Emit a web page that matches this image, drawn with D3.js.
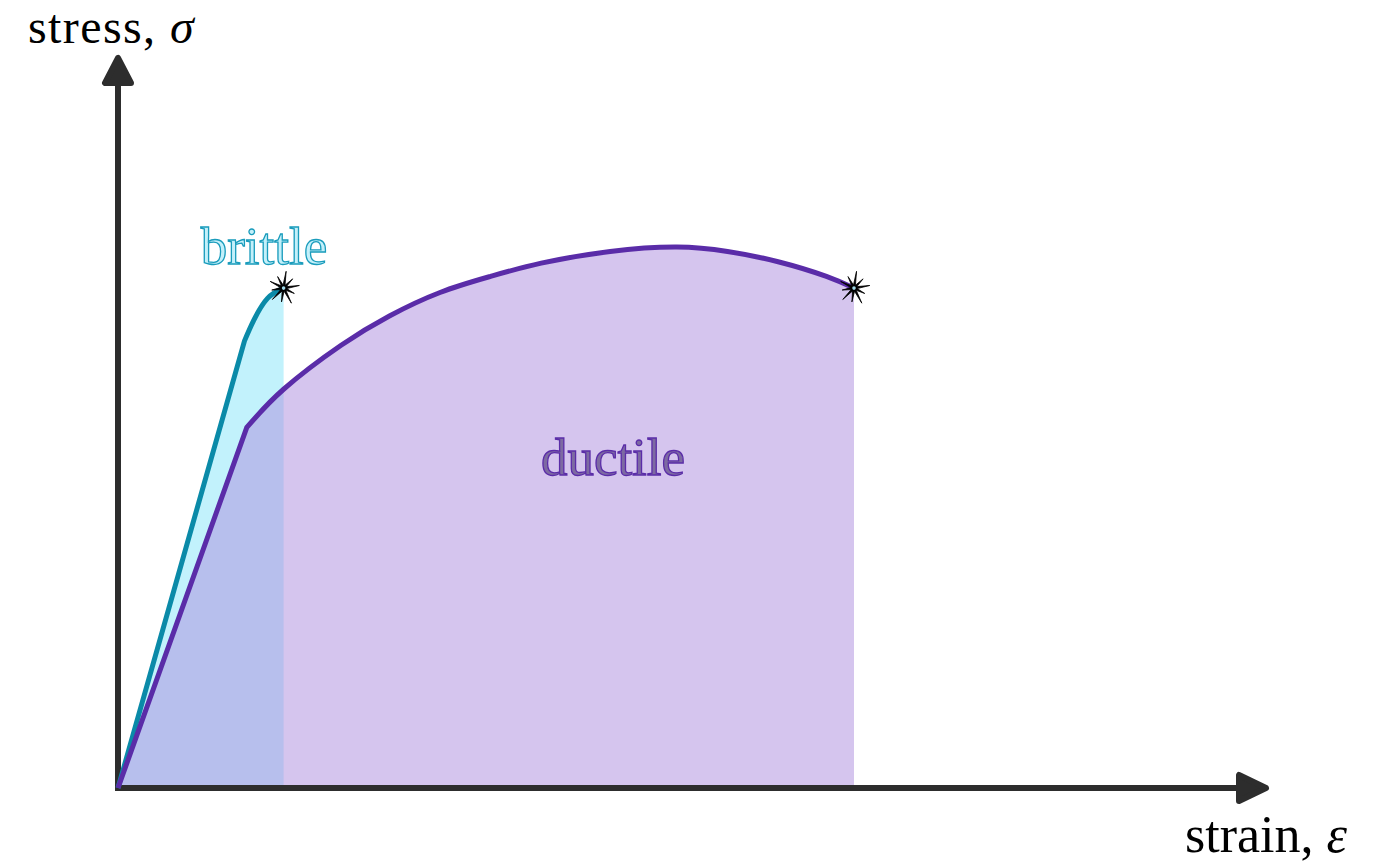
<!DOCTYPE html>
<html>
<head>
<meta charset="utf-8">
<script src="https://cdn.jsdelivr.net/npm/d3@7"></script>
<style>
  body { margin: 0; background: #fff; }
  svg { display: block; }
</style>
</head>
<body>
<div class="chart"></div>
<script>

var width = 1378;
var height = 862;

// brittle material: elastic part then short curve to fracture
var brittleStrain = [0, 5.5, 5.9, 6.5, 7.2];
var brittleStress = [0, 305, 319, 334, 341];

// ductile material: elastic part, yielding, hardening, necking to fracture
var ductileStrain = [0, 5.6, 7.2, 9.7, 11.8, 14.0, 16.2, 18.4, 21.4, 24.3, 26.5, 28.7, 30.8, 32.0];
var ductileStress = [0, 246, 272, 302, 322, 338, 349, 358, 366, 369, 366, 359, 349, 341];

var labels = ["brittle", "ductile"];

var x = d3.scaleLinear().domain([0, 50]).range([118, 1268]);
var y = d3.scaleLinear().domain([0, 500]).range([788, 55]);

var svg = d3.select(".chart")
    .append("svg")
    .attr("width", width)
    .attr("height", height);

function toPoints(xs, ys) {
    return xs.map((d, i) => [d, ys[i]]);
}

var brittle = toPoints(brittleStrain, brittleStress);
var ductile = toPoints(ductileStrain, ductileStress);

var straight = d3.line().x(d => x(d[0])).y(d => y(d[1]));
var smooth = d3.line().x(d => x(d[0])).y(d => y(d[1])).curve(d3.curveNatural);

// elastic segment is straight, the rest is a smooth curve (keeps the kink)
function curvePath(pts) {
    var elastic = straight(pts.slice(0, 2));
    var plastic = smooth(pts.slice(1)).replace(/^M/, "L");
    return elastic + plastic;
}

function areaPath(pts) {
    var last = pts[pts.length - 1];
    return curvePath(pts) + "L" + x(last[0]) + "," + y(0) + "L" + x(0) + "," + y(0) + "Z";
}

// fills
svg.append("path")
    .attr("d", areaPath(brittle))
    .attr("fill", "#c2f2fc");

svg.append("path")
    .attr("d", areaPath(ductile))
    .attr("fill", "#ab8bdd")
    .attr("fill-opacity", 0.5);

// axes
var axisColor = "#2d2d2d";
var axes = svg.append("g");

axes.append("line")
    .attr("x1", x(0) - 3).attr("x2", x.range()[1] - 30)
    .attr("y1", y(0)).attr("y2", y(0))
    .attr("stroke", axisColor).attr("stroke-width", 6);

axes.append("line")
    .attr("x1", x(0)).attr("x2", x(0))
    .attr("y1", y(0) + 3).attr("y2", y.range()[1] + 30)
    .attr("stroke", axisColor).attr("stroke-width", 6);

// arrow heads
var xe = x.range()[1], ye = y.range()[1];
axes.append("path")
    .attr("d", "M" + (xe - 2) + "," + y(0) + "L" + (xe - 29) + "," + (y(0) - 13) + "L" + (xe - 29) + "," + (y(0) + 13) + "Z")
    .attr("fill", axisColor).attr("stroke", axisColor)
    .attr("stroke-width", 6).attr("stroke-linejoin", "round");

axes.append("path")
    .attr("d", "M" + x(0) + "," + (ye + 3) + "L" + (x(0) - 13) + "," + (ye + 28) + "L" + (x(0) + 13) + "," + (ye + 28) + "Z")
    .attr("fill", axisColor).attr("stroke", axisColor)
    .attr("stroke-width", 6).attr("stroke-linejoin", "round");

// curves
svg.append("path")
    .attr("d", curvePath(brittle))
    .attr("fill", "none")
    .attr("stroke", "#0a8aa8")
    .attr("stroke-width", 5)
    .attr("stroke-linejoin", "round");

svg.append("path")
    .attr("d", curvePath(ductile))
    .attr("fill", "none")
    .attr("stroke", "#5a2ca8")
    .attr("stroke-width", 5)
    .attr("stroke-linejoin", "round");

// fracture stars
var spikeLen = [17, 13, 16, 12, 17, 14, 16, 12, 15, 13];
var spikes = d3.range(20).map(i => [i * Math.PI / 10, i % 2 ? 3.2 : spikeLen[i / 2]]);
var star = d3.lineRadial().angle(d => d[0] + 0.15).radius(d => d[1]).curve(d3.curveLinearClosed);

[brittle[brittle.length - 1], ductile[ductile.length - 1]].forEach(function (p) {
    svg.append("path")
        .attr("d", star(spikes))
        .attr("transform", "translate(" + x(p[0]) + "," + y(p[1]) + ")")
        .attr("fill", "#000")
        .attr("stroke", "#000")
        .attr("stroke-width", 0.8)
        .attr("stroke-linejoin", "round");
    svg.append("circle")
        .attr("cx", x(p[0])).attr("cy", y(p[1]))
        .attr("r", 1.8)
        .attr("fill", "#9fd8e8");
});

// labels
var serif = "'Liberation Serif', 'Times New Roman', serif";

svg.append("text")
    .attr("x", 264).attr("y", 264)
    .attr("text-anchor", "middle")
    .attr("font-family", serif).attr("font-size", 53)
    .attr("fill", "#c4f0fa").attr("stroke", "#1a9cbc").attr("stroke-width", 1.3)
    .text(labels[0]);

svg.append("text")
    .attr("x", 613).attr("y", 475)
    .attr("text-anchor", "middle")
    .attr("font-family", serif).attr("font-size", 53)
    .attr("fill", "#7d6aa2").attr("stroke", "#5a2ca8").attr("stroke-width", 1.3)
    .text(labels[1]);

var yLabel = svg.append("text")
    .attr("x", 28).attr("y", 43)
    .attr("font-family", serif).attr("font-size", 48)
    .attr("letter-spacing", 1.4)
    .attr("fill", "#000");
yLabel.append("tspan").text("stress, ");
yLabel.append("tspan").attr("font-style", "italic").text("σ");

var xLabel = svg.append("text")
    .attr("x", 1185).attr("y", 852)
    .attr("font-family", serif).attr("font-size", 52)
    .attr("fill", "#000");
xLabel.append("tspan").text("strain, ");
xLabel.append("tspan").attr("font-style", "italic").text("ε");

</script>
</body>
</html>
